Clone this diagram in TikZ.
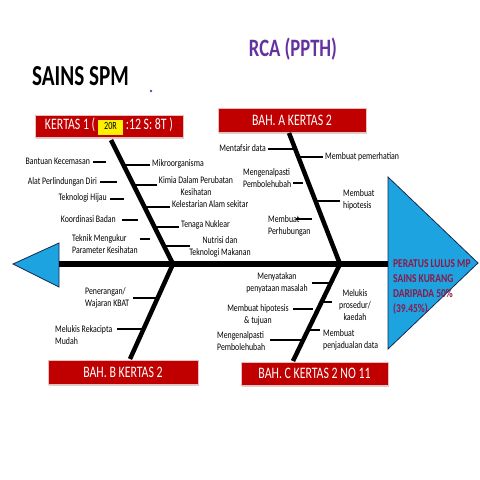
\documentclass[tikz,border=0pt]{standalone}
\usepackage{fontspec}
\setmainfont{Carlito}
\usepackage{graphicx}
\usetikzlibrary{shadows}
\definecolor{boxred}{RGB}{192,0,0}
\definecolor{fishblue}{RGB}{30,163,225}
\definecolor{fishedge}{RGB}{20,40,80}
\definecolor{titlepurple}{RGB}{100,50,160}
\definecolor{headred}{RGB}{140,25,70}
\definecolor{dotblue}{RGB}{60,90,180}
\newcommand{\sqz}[1]{\scalebox{0.74}[1]{#1}}
\begin{document}
\begin{tikzpicture}[x=1pt,y=-1pt,
  lbl/.style={font=\fontsize{10}{12}\selectfont, inner sep=0pt, xscale=0.78},
  one/.style={lbl, text height=7pt, text depth=2pt},
  redbox/.style={fill=boxred, draw={rgb,255:red,235;green,190;blue,190}, line width=0.6pt,
     minimum width=#1, minimum height=23pt, inner sep=0pt, text=white,
     font=\fontsize{16}{16}\selectfont,
     drop shadow={opacity=0.35,shadow xshift=1pt,shadow yshift=-1.5pt}},
  bone/.style={line width=4.5pt},
  sub/.style={line width=2.8pt},
  fish/.style={fill=fishblue, draw=fishedge, line width=0.8pt, line join=miter}
]
\useasboundingbox (0,0) rectangle (480,480);
\fill[white] (0,0) rectangle (480,480);

% titles
\node[font=\bfseries\fontsize{25}{25}\selectfont, text=titlepurple, xscale=0.745, inner sep=0pt, anchor=base] (rca) at (293,56) {RCA (PPTH)};
\node[font=\bfseries\fontsize{29}{29}\selectfont, xscale=0.73, inner sep=0pt, anchor=base west] (sains) at (32,85) {SAINS SPM};
\fill[dotblue] (151,91) circle (1.3);

% head and tail
\draw[fish] (13,264) -- (59,243) -- (59,287) -- cycle;
\draw[fish] (388,177) -- (478,263) -- (388,349) -- cycle;

% boxes
\node[redbox=148pt, minimum height=22pt] (k1) at (109,126)
  {\sqz{KERTAS 1 ( {\setlength{\fboxsep}{2pt}\colorbox{yellow}{\makebox[30pt]{\rule[-3.5pt]{0pt}{11pt}\color{black}\fontsize{11}{11}\selectfont 20R}}} :12 S: 8T )}};
\node[redbox=148pt, minimum height=24pt] (ba) at (292,120) {\sqz{BAH. A KERTAS 2}};
\node[redbox=150pt, minimum height=24pt] (bb) at (123,372) {\sqz{BAH. B KERTAS 2}};
\node[redbox=147pt, minimum height=23pt] (bc) at (314.5,373.5) {\sqz{BAH. C KERTAS 2 NO 11}};

% spine and bones
\coordinate (spL) at (59,264);
\coordinate (spR) at (388,264);
\coordinate (j1) at (173,264);
\coordinate (j2) at (340,264);
\coordinate (k1top) at (111,140);
\coordinate (batop) at (289,133);
\coordinate (bbbot) at (130,359);
\coordinate (bcbot) at (293,361);
\draw[line width=5.5pt] (spL) -- (spR);
\draw[bone] (k1top) -- (j1);
\draw[bone] (batop) -- (j2);
\draw[bone] (j1) -- (bbbot);
\draw[bone] (j2) -- (bcbot);

% KERTAS 1 causes
\node[one, anchor=east] (ka) at (90,162) {Bantuan Kecemasan};
\node[one, anchor=east] (kb) at (97,182) {Alat Perlindungan Diri};
\node[one, anchor=east] (kc) at (107,198) {Teknologi Hijau};
\node[one, anchor=east] (kd) at (116,220) {Koordinasi Badan};
\node[lbl, anchor=west, align=left] (ke) at (72,244) {Teknik Mengukur\\Parameter Kesihatan};
\node[one, anchor=west] (kf) at (152,164) {Mikroorganisma};
\node[lbl, align=center] (kg) at (196,186.5) {Kimia Dalam Perubatan\\Kesihatan};
\node[one, anchor=west] (kh) at (172,205) {Kelestarian Alam sekitar};
\node[one, anchor=west] (ki) at (181,225) {Tenaga Nuklear};
\node[lbl, align=center] (kj) at (220,247) {Nutrisi dan\\Teknologi Makanan};
\coordinate (ka1) at (93,162);  \coordinate (ka2) at (106,162);
\coordinate (kb1) at (100,182); \coordinate (kb2) at (117,182);
\coordinate (kc1) at (110,199); \coordinate (kc2) at (124,199);
\coordinate (kd1) at (122,220); \coordinate (kd2) at (138,220);
\coordinate (ke1) at (140,239); \coordinate (ke2) at (150,239);
\coordinate (kf1) at (124,165); \coordinate (kf2) at (150,165);
\coordinate (kg1) at (133,185); \coordinate (kg2) at (157,185);
\coordinate (kh1) at (144,207); \coordinate (kh2) at (170,207);
\coordinate (ki1) at (155,227); \coordinate (ki2) at (179,227);
\coordinate (kj1) at (164,246); \coordinate (kj2) at (190,246);
\foreach \n in {ka,kb,kc,kd,ke,kf,kg,kh,ki,kj} \draw[sub] (\n1) -- (\n2);

% BAH. A causes
\node[one, anchor=east] (aa) at (266,149) {Mentafsir data};
\node[lbl, anchor=west, align=left] (ab) at (243,178) {Mengenalpasti\\Pembolehubah};
\node[lbl, anchor=west, align=left] (ac) at (268,226) {Membuat\\Perhubungan};
\node[one, anchor=west] (ad) at (325,157) {Membuat pemerhatian};
\node[lbl, anchor=west, align=left] (ae) at (343,199.5) {Membuat\\hipotesis};
\coordinate (aa1) at (268,149); \coordinate (aa2) at (295,149);
\coordinate (ab1) at (293,183); \coordinate (ab2) at (303,183);
\coordinate (ac1) at (296,219); \coordinate (ac2) at (312,219);
\coordinate (ad1) at (298,157); \coordinate (ad2) at (323,157);
\coordinate (ae1) at (316,201); \coordinate (ae2) at (340,201);
\foreach \n in {aa,ab,ac,ad,ae} \draw[sub] (\n1) -- (\n2);

% BAH. B causes
\node[lbl, anchor=west, align=left] (ba1t) at (85,298) {Penerangan/\\Wajaran KBAT};
\node[lbl, anchor=west, align=left] (bb1t) at (55,335) {Melukis Rekacipta\\Mudah};
\coordinate (pa1) at (133,298); \coordinate (pa2) at (157,298);
\coordinate (pb1) at (117,329); \coordinate (pb2) at (143,329);
\foreach \n in {pa,pb} \draw[sub] (\n1) -- (\n2);

% BAH. C causes
\node[lbl, align=center] (ca) at (277,283) {Menyatakan\\penyataan masalah};
\node[lbl, align=center] (cb) at (258,314.5) {Membuat hipotesis\\\& tujuan};
\node[lbl, anchor=west, align=left] (cc) at (217,341.5) {Mengenalpasti\\Pembolehubah};
\node[lbl, align=center] (cd) at (355,305) {Melukis\\prosedur/\\kaedah};
\node[lbl, anchor=west, align=left] (ce) at (323,339.5) {Membuat\\penjadualan data};
\coordinate (ca1) at (312,283); \coordinate (ca2) at (330,283);
\coordinate (cb1) at (293,309); \coordinate (cb2) at (313,309);
\coordinate (cc1) at (270,340); \coordinate (cc2) at (302,340);
\coordinate (cd1) at (321,302); \coordinate (cd2) at (332,302);
\coordinate (ce1) at (307,330); \coordinate (ce2) at (320,330);
\foreach \n in {ca,cb,cc,cd,ce} \draw[sub] (\n1) -- (\n2);

% effect
\node[font=\bfseries\fontsize{12}{15.3}\selectfont, text=headred, xscale=0.79, inner sep=0pt, anchor=west, align=left] (eff) at (393,287)
  {PERATUS LULUS MP\\SAINS KURANG\\DARIPADA 50\%\\(39.45\%)};
\end{tikzpicture}
\end{document}
